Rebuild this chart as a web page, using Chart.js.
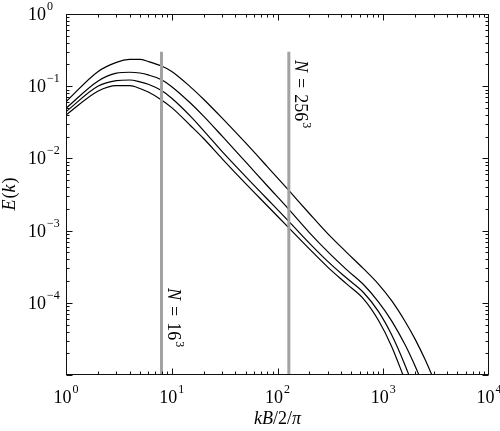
<!DOCTYPE html>
<html>
<head>
<meta charset="utf-8">
<script src="https://cdn.jsdelivr.net/npm/chart.js@4.4.1/dist/chart.umd.min.js"></script>
<style>
  html, body { margin: 0; padding: 0; background: #fff; }
  #wrap { width: 500px; height: 431px; position: relative; }
</style>
</head>
<body>
<div id="wrap"><canvas id="c"></canvas></div>
<script>
// ---- data ----
const kValues = [1, 2, 3, 4, 5, 6, 8, 10, 15, 20, 30, 50, 80, 128, 200, 300, 450, 650, 900, 1200, 1600, 2000, 2500, 3000];
const energyA = [0.0610, 0.159, 0.214, 0.235, 0.236, 0.220, 0.190, 0.160, 0.098, 0.0660, 0.0361, 0.01636, 0.0077, 0.0036, 0.001725, 9.0e-4, 5.0e-4, 2.97e-4, 1.82e-4, 1.07e-4, 5.6e-5, 3.14e-5, 1.61e-5, 8.7e-6];
const energyB = [0.0494, 0.1173, 0.1514, 0.156, 0.1524, 0.1434, 0.123, 0.0985, 0.0585, 0.0385, 0.0203, 0.00893, 0.00418, 0.00197, 9.4e-4, 5.08e-4, 2.88e-4, 1.79e-4, 1.03e-4, 5.63e-5, 2.66e-5, 1.33e-5, 6.1e-6, null];
const energyC = [0.0443, 0.0997, 0.1196, 0.1219, 0.115, 0.1065, 0.087, 0.068, 0.0385, 0.0243, 0.0124, 0.0056, 0.00274, 0.00134, 6.71e-4, 3.72e-4, 2.2e-4, 1.39e-4, 7.6e-5, 3.6e-5, 1.39e-5, 5.96e-6, null, null];
const energyD = [0.0399, 0.0850, 0.1016, 0.1016, 0.093, 0.083, 0.0646, 0.0505, 0.0286, 0.01886, 0.00987, 0.00447, 0.00221, 0.00109, 5.58e-4, 3.10e-4, 1.83e-4, 1.135e-4, 5.73e-5, 2.49e-5, 8.6e-6, null, null, null];

const markerK = [8, 128];              // vertical resolution markers
const markerTopE = 0.3;                // top of the marker lines
const markerLabels = ['16', '256'];    // N = 16^3, N = 256^3
const markerLabelE = [1.6e-4, 0.23];   // where each label starts (top)

const xTickExponents = [0, 1, 2, 3, 4];
const yTickExponents = [0, -1, -2, -3, -4];
const xMin = 1, xMax = 1e4, yMin = 1e-5, yMax = 1;

// ---- build datasets ----
function series(arr) {
  return kValues.map((k, i) => ({ x: k, y: arr[i] })).filter(p => p.y !== null);
}
const curveStyle = { borderColor: '#000', borderWidth: 1.2, pointRadius: 0, showLine: true, cubicInterpolationMode: 'monotone', fill: false };
const datasets = [];
markerK.forEach(k => {
  datasets.push({ data: [{ x: k, y: markerTopE }, { x: k, y: yMin }], borderColor: '#a2a2a2', borderWidth: 3, pointRadius: 0, showLine: true, fill: false, clip: false });
});
[energyA, energyB, energyC, energyD].forEach(arr => datasets.push(Object.assign({ data: series(arr) }, curveStyle)));

const SERIF = '"Liberation Serif", "DejaVu Serif", serif';

function drawPieces(ctx, pieces, x, y, align) {
  let total = 0;
  pieces.forEach(p => {
    ctx.font = (p.italic ? 'italic ' : '') + p.size + 'px ' + SERIF;
    p.w = ctx.measureText(p.t).width;
    total += (p.gap || 0) + p.w;
  });
  let cx = x;
  if (align === 'center') cx = x - total / 2;
  else if (align === 'right') cx = x - total;
  pieces.forEach(p => {
    cx += (p.gap || 0);
    ctx.font = (p.italic ? 'italic ' : '') + p.size + 'px ' + SERIF;
    ctx.fillText(p.t, cx, y + (p.dy || 0));
    cx += p.w;
  });
}
function expText(e) { return (e < 0 ? '\u2212' : '') + Math.abs(e); }

const framePlugin = {
  id: 'frame',
  afterDraw(chart) {
    const ctx = chart.ctx, a = chart.chartArea, xs = chart.scales.x, ys = chart.scales.y;
    ctx.save();
    ctx.strokeStyle = '#111';
    ctx.lineWidth = 1;
    const L = Math.round(a.left) + 0.5, R = Math.round(a.right) - 0.5, T = Math.round(a.top) + 0.5, B = Math.round(a.bottom) - 0.5;
    ctx.strokeRect(L, T, R - L, B - T);
    ctx.beginPath();
    for (let d = 0; d < 4; d++) {
      for (let m = 1; m <= 9; m++) {
        const v = m * Math.pow(10, d);
        const px = Math.round(xs.getPixelForValue(v)) + 0.5;
        const len = m === 1 ? 6 : 3;
        ctx.moveTo(px, B); ctx.lineTo(px, B - len);
        ctx.moveTo(px, T); ctx.lineTo(px, T + len);
      }
    }
    for (let d = -5; d < 0; d++) {
      for (let m = 1; m <= 9; m++) {
        const v = m * Math.pow(10, d);
        const py = Math.round(ys.getPixelForValue(v)) + 0.5;
        const len = m === 1 ? 6 : 3;
        ctx.moveTo(L, py); ctx.lineTo(L + len, py);
        ctx.moveTo(R, py); ctx.lineTo(R - len, py);
      }
    }
    ctx.stroke();

    ctx.fillStyle = '#000';
    ctx.textBaseline = 'alphabetic';
    ctx.textAlign = 'left';
    xTickExponents.forEach(e => {
      const px = xs.getPixelForValue(Math.pow(10, e));
      drawPieces(ctx, [{ t: '10', size: 18 }, { t: expText(e), size: 12, dy: -10, gap: 1 }], px, 403, 'center');
    });
    yTickExponents.forEach(e => {
      const py = ys.getPixelForValue(Math.pow(10, e));
      drawPieces(ctx, [{ t: '10', size: 18 }, { t: expText(e), size: 12, dy: -10, gap: 1 }], 28, py + 6, 'left');
    });
    drawPieces(ctx, [
      { t: 'k', italic: true, size: 18 }, { t: 'B', italic: true, size: 18 },
      { t: '/2/', size: 18 }, { t: '\u03c0', italic: true, size: 18 }
    ], (a.left + a.right) / 2, 424, 'center');
    ctx.save();
    ctx.translate(15, 194);
    ctx.rotate(-Math.PI / 2);
    drawPieces(ctx, [
      { t: 'E', italic: true, size: 18 }, { t: '(', size: 18, gap: 1 },
      { t: 'k', italic: true, size: 18 }, { t: ')', size: 18, gap: 1 }
    ], 0, 0, 'center');
    ctx.restore();
    markerK.forEach((k, i) => {
      const px = xs.getPixelForValue(k) + 6;
      const py = ys.getPixelForValue(markerLabelE[i]);
      ctx.save();
      ctx.translate(px, py);
      ctx.rotate(Math.PI / 2);
      drawPieces(ctx, [
        { t: 'N', italic: true, size: 18 }, { t: '=', size: 18, gap: 6 },
        { t: markerLabels[i], size: 18, gap: 6 }, { t: '3', size: 12, dy: -8, gap: 1 }
      ], 0, 0, 'left');
      ctx.restore();
    });
    ctx.restore();
  }
};

new Chart(document.getElementById('c'), {
  type: 'scatter',
  data: { datasets },
  options: {
    responsive: true,
    maintainAspectRatio: false,
    animation: false,
    layout: { padding: { left: 66, right: 11, top: 14, bottom: 56 } },
    plugins: { legend: { display: false }, tooltip: { enabled: false } },
    scales: {
      x: { type: 'logarithmic', min: xMin, max: xMax, display: false },
      y: { type: 'logarithmic', min: yMin, max: yMax, display: false }
    }
  },
  plugins: [framePlugin]
});
</script>
</body>
</html>
